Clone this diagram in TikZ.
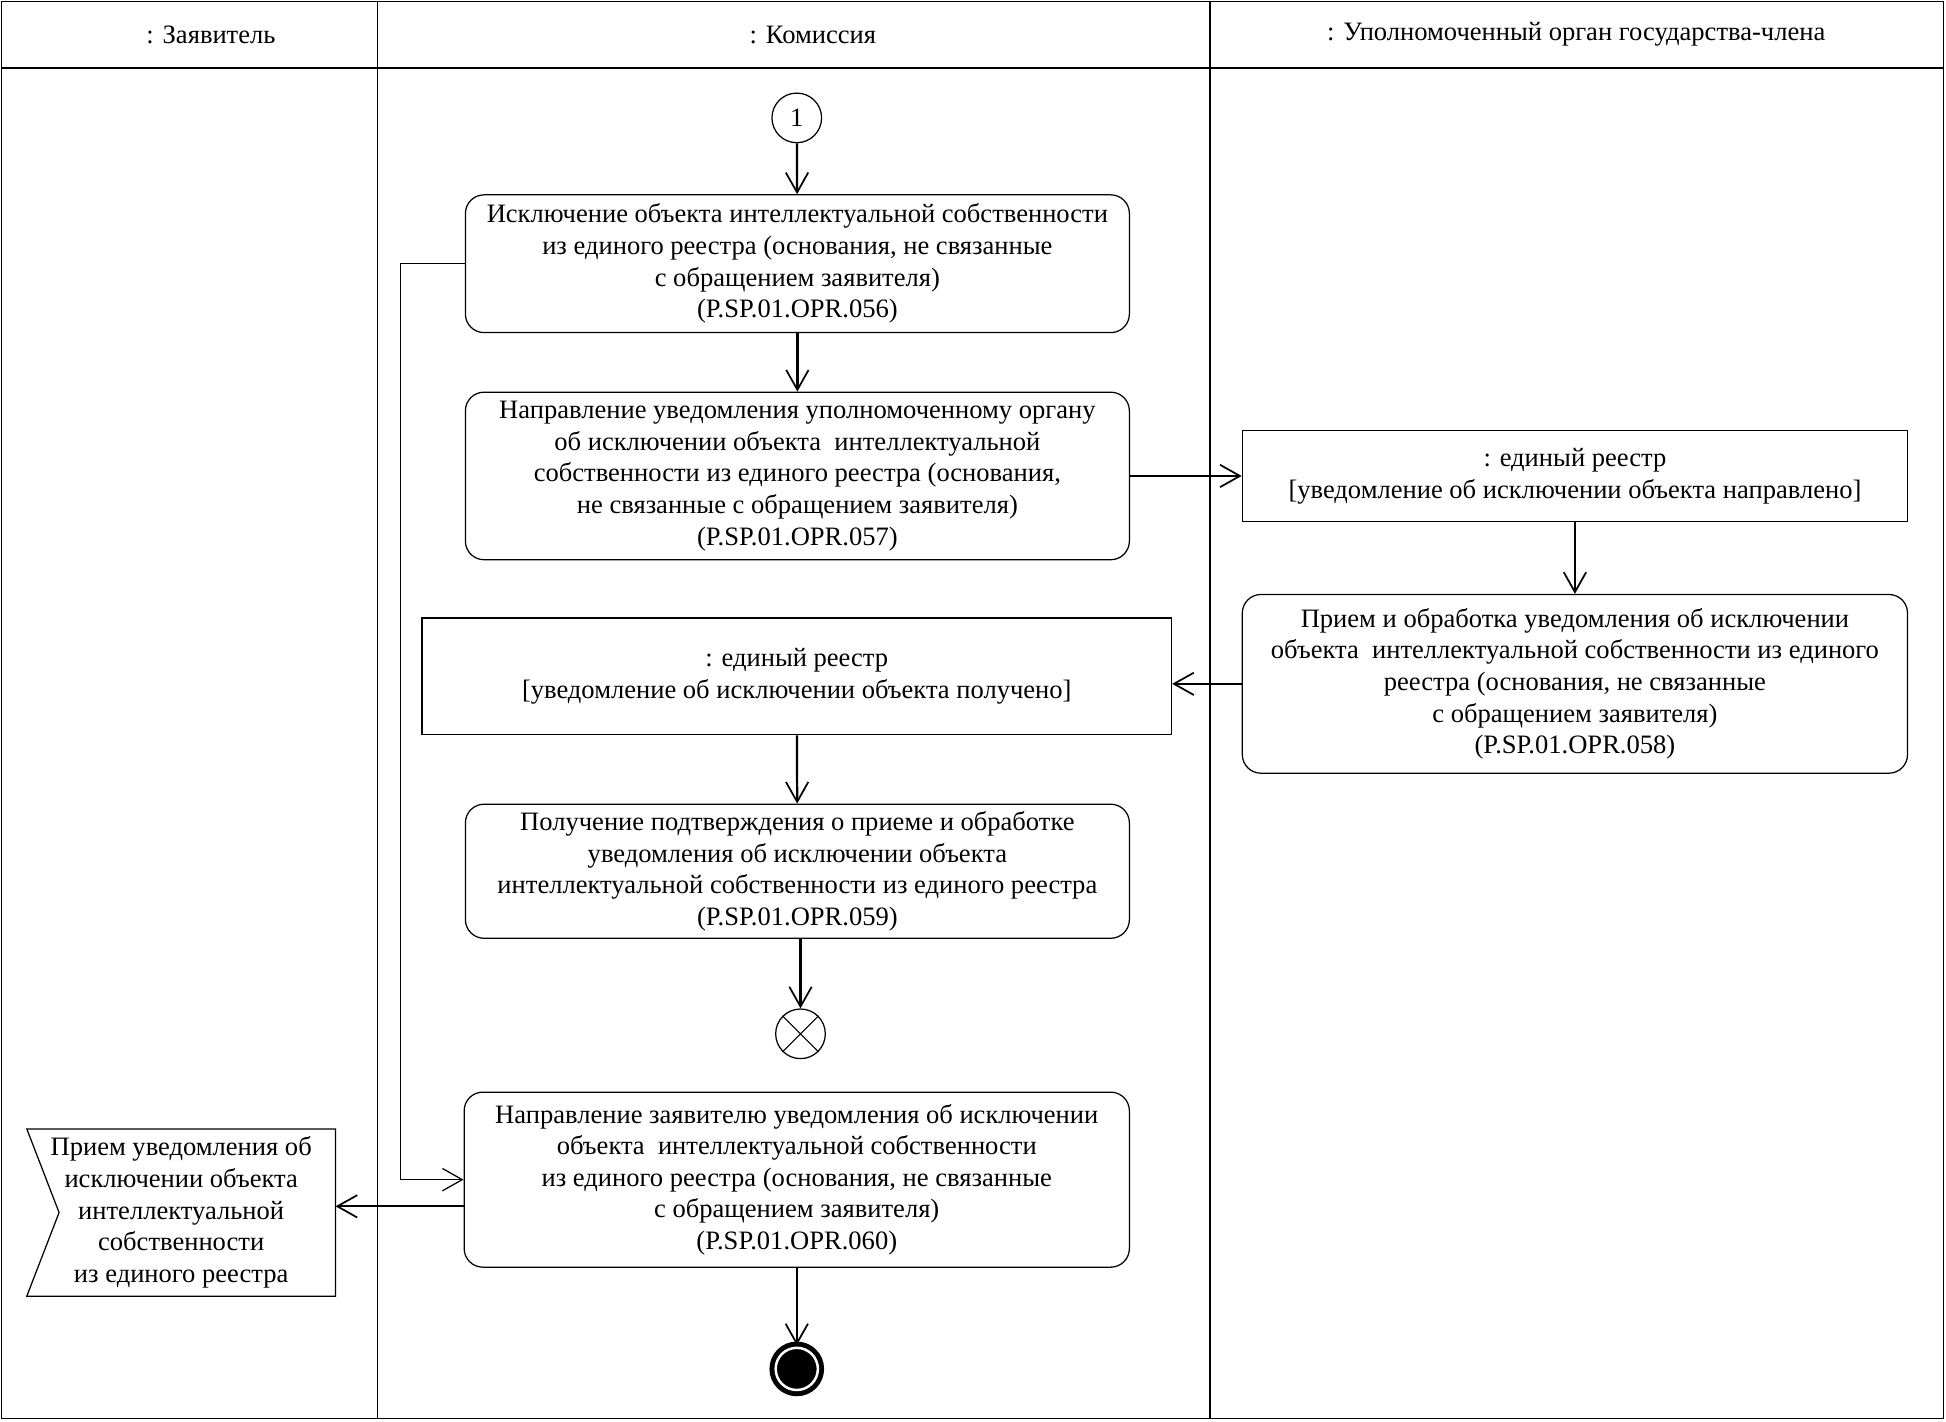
\documentclass[tikz,border=0pt]{standalone}
\usepackage{fontspec}
\setmainfont{Liberation Serif}
\usetikzlibrary{arrows.meta,calc}
\begin{document}
\begin{tikzpicture}[x=0.5pt,y=-0.5pt,
  txt/.style={font=\fontsize{10.7}{12.75}\selectfont, align=center},
  action/.style={txt, draw, line width=0.5pt, rounded corners=7.5pt, inner sep=0pt},
  objbox/.style={txt, draw, line width=0.5pt, inner sep=0pt},
  flow/.style={line width=0.9pt, -{Straight Barb[length=8pt,width=9pt,line width=0.7pt]}},
  thinflow/.style={line width=0.5pt, -{Straight Barb[length=8pt,width=9pt,line width=0.5pt]}},
  lane/.style={line width=0.5pt}
]
\useasboundingbox (0,0) rectangle (1568,1145);
% swimlanes
\draw[lane] (1,1) rectangle (1566,1143);
\draw[line width=1pt] (1,55) -- (1566,55);
\draw[lane] (304,1) -- (304,1143);
\draw[lane] (975,1) -- (975,1143);
\node[txt] (h1) at (170,28) {: Заявитель};
\node[txt] (h2) at (655,28) {: Комиссия};
\node[txt] (h3) at (1270,28) {: Уполномоченный орган государства-члена};

% nodes
\node[draw, circle, line width=0.5pt, minimum size=20pt, inner sep=0pt, txt] (start) at (642,95) {1};
\node[action, minimum width=267.5pt, minimum height=55.5pt] (b1) at (642.5,212.5)
  {Исключение объекта интеллектуальной собственности\\из единого реестра (основания, не связанные\\с обращением заявителя)\\(P.SP.01.OPR.056)};
\node[action, minimum width=267.5pt, minimum height=67.5pt] (b2) at (642.5,383.5)
  {Направление уведомления уполномоченному органу\\об исключении объекта \ интеллектуальной\\собственности из единого реестра (основания,\\не связанные с обращением заявителя)\\(P.SP.01.OPR.057)};
\node[objbox, minimum width=268pt, minimum height=36.5pt] (o1) at (1269,383.5)
  {: единый реестр\\[0pt][уведомление об исключении объекта направлено]};
\node[action, minimum width=268pt, minimum height=72pt] (b3) at (1269,551)
  {Прием и обработка уведомления об исключении\\объекта \ интеллектуальной собственности из единого\\реестра (основания, не связанные\\с обращением заявителя)\\(P.SP.01.OPR.058)};
\node[objbox, minimum width=302pt, minimum height=47pt] (o2) at (642,545)
  {: единый реестр\\[0pt][уведомление об исключении объекта получено]};
\node[action, minimum width=267.5pt, minimum height=54pt] (b4) at (642.5,702)
  {Получение подтверждения о приеме и обработке\\уведомления об исключении объекта\\интеллектуальной собственности из единого реестра\\(P.SP.01.OPR.059)};
\node[draw, circle, line width=0.5pt, minimum size=20pt, inner sep=0pt] (ff) at (645,833) {};
\draw[line width=0.4pt] (ff.north west) -- (ff.south east) (ff.north east) -- (ff.south west);
\node[action, minimum width=268pt, minimum height=70.5pt] (b5) at (642,950.5)
  {Направление заявителю уведомления об исключении\\объекта \ интеллектуальной собственности\\из единого реестра (основания, не связанные\\с обращением заявителя)\\(P.SP.01.OPR.060)};
\node[txt, minimum width=124pt, minimum height=67pt, inner sep=0pt] (sig) at (146,977)
  {Прием уведомления об\\исключении объекта\\интеллектуальной\\собственности\\из единого реестра};
\draw[line width=0.5pt] (sig.north west) -- (sig.north east) -- (sig.south east) -- (sig.south west) -- ($(sig.west)+(26,0)$) -- cycle;
\node[circle, draw, line width=2pt, fill=black, minimum size=17pt, inner sep=0pt, double=white, double distance=1pt] (end) at (642,1103) {};

% connectors
\draw[flow] (start) -- (b1);
\draw[flow] (b1) -- (b2);
\draw[flow] (b2.east) -- (o1.west);
\draw[flow] (o1) -- (b3);
\draw[flow] (b3.west) -- (b3.west -| o2.east);
\draw[flow] (o2) -- (b4);
\draw[flow] (b4.south -| ff) -- (ff);
\coordinate (c1) at (323,212.5);
\coordinate (c2) at (323,950.5);
\draw[thinflow] (b1.west) -- (c1) -- (c2) -- (b5.west);
\draw[flow] ([yshift=-10.75pt]b5.west) -- ([yshift=-10.75pt]b5.west -| sig.east);
\draw[flow] (b5) -- (end);
\end{tikzpicture}
\end{document}
